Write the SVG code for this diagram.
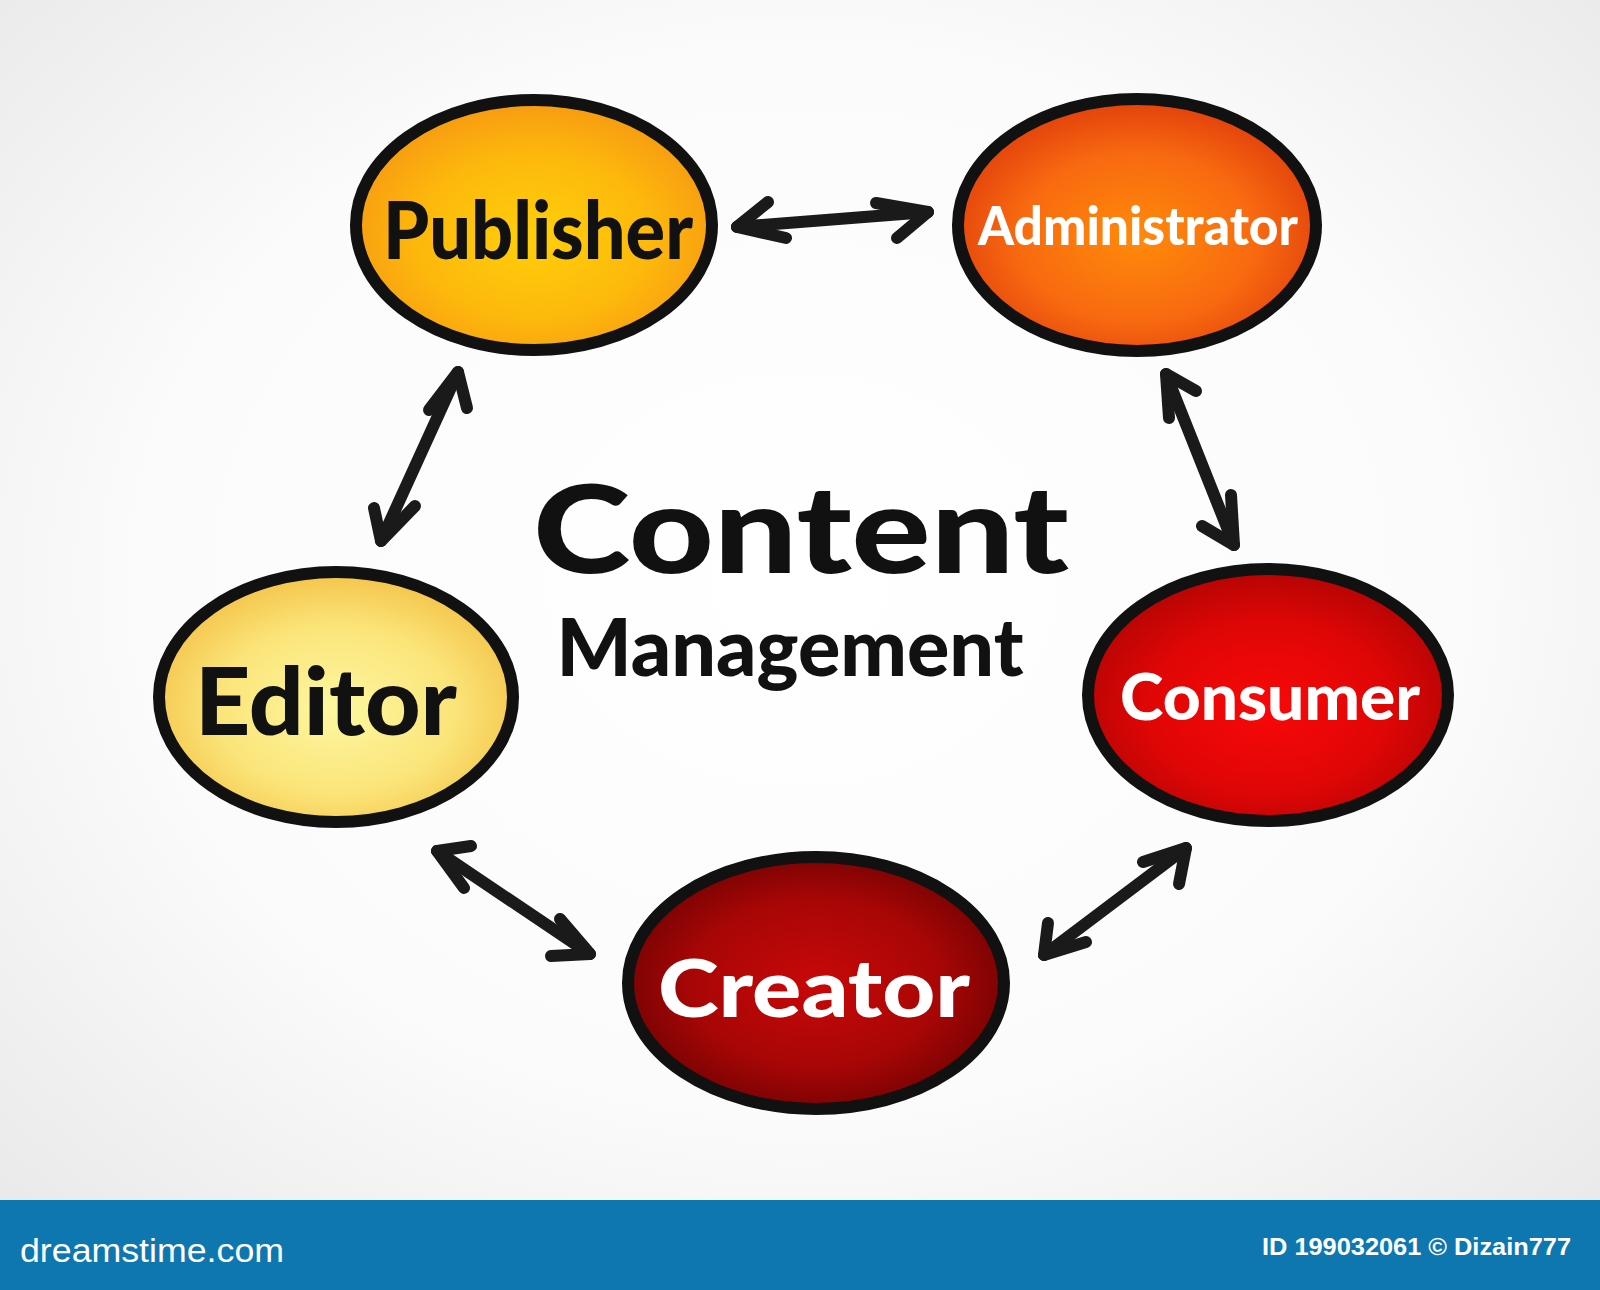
<svg xmlns="http://www.w3.org/2000/svg" width="1600" height="1290" viewBox="0 0 1600 1290">
  <defs>
    <radialGradient id="bg" cx="50%" cy="45%" r="75%">
      <stop offset="0" stop-color="#ffffff"/>
      <stop offset="0.55" stop-color="#fbfbfb"/>
      <stop offset="1" stop-color="#e6e6e6"/>
    </radialGradient>
    <radialGradient id="gPub" cx="50%" cy="55%" r="55%">
      <stop offset="0" stop-color="#ffcf0a"/>
      <stop offset="0.6" stop-color="#fdb80c"/>
      <stop offset="1" stop-color="#f79a12"/>
    </radialGradient>
    <radialGradient id="gAdm" cx="50%" cy="55%" r="55%">
      <stop offset="0" stop-color="#ff8a0a"/>
      <stop offset="0.6" stop-color="#f86a10"/>
      <stop offset="1" stop-color="#e2400c"/>
    </radialGradient>
    <radialGradient id="gEdi" cx="50%" cy="55%" r="55%">
      <stop offset="0" stop-color="#fdf7a0"/>
      <stop offset="0.6" stop-color="#fbe57a"/>
      <stop offset="1" stop-color="#f4c44a"/>
    </radialGradient>
    <radialGradient id="gCon" cx="50%" cy="55%" r="55%">
      <stop offset="0" stop-color="#f80808"/>
      <stop offset="0.6" stop-color="#e00606"/>
      <stop offset="1" stop-color="#b40404"/>
    </radialGradient>
    <radialGradient id="gCre" cx="50%" cy="50%" r="55%">
      <stop offset="0" stop-color="#c80808"/>
      <stop offset="0.6" stop-color="#a80606"/>
      <stop offset="1" stop-color="#700202"/>
    </radialGradient>
    <style>
      .node { stroke: #111; stroke-width: 12; }
      .lbl { font-family: Lato, "Open Sans", "DejaVu Sans", sans-serif; font-weight: 900; text-anchor: middle; }
      .dark { fill: #111; }
      .light { fill: #ffffff; }
      .arr { fill: none; stroke: #1a1a1a; stroke-width: 12; stroke-linecap: round; stroke-linejoin: round; }
      .title { font-family: Lato, "Open Sans", "DejaVu Sans", sans-serif; font-weight: 900; fill: #111; text-anchor: middle; }
      .foot { font-family: "Liberation Sans", Arial, sans-serif; fill: #ffffff; }
    </style>
  </defs>

  <rect x="0" y="0" width="1600" height="1290" fill="url(#bg)"/>

  <g id="connectors">
    <!-- Publisher <-> Administrator -->
    <path class="arr" d="M737 227 L928 212"/>
    <path class="arr" d="M768 202 L737 227 L786 238"/>
    <path class="arr" d="M876 203 L928 212 L897 238"/>
    <!-- Publisher <-> Editor -->
    <path class="arr" d="M458 372 L381 541"/>
    <path class="arr" d="M429 410 L458 372 L467 408"/>
    <path class="arr" d="M374 508 L381 541 L415 506"/>
    <!-- Administrator <-> Consumer -->
    <path class="arr" d="M1166 374 L1234 545"/>
    <path class="arr" d="M1196 391 L1166 374 L1169 418"/>
    <path class="arr" d="M1231 495 L1234 545 L1202 526"/>
    <!-- Editor <-> Creator -->
    <path class="arr" d="M437 851 L590 954"/>
    <path class="arr" d="M471 846 L437 851 L464 888"/>
    <path class="arr" d="M560 919 L590 954 L551 956"/>
    <!-- Consumer <-> Creator -->
    <path class="arr" d="M1186 848 L1044 955"/>
    <path class="arr" d="M1143 862 L1186 848 L1179 884"/>
    <path class="arr" d="M1048 923 L1044 955 L1086 942"/>
  </g>

  <g id="publisher">
    <ellipse class="node" cx="534" cy="225" rx="178" ry="125" fill="url(#gPub)"/>
    <text class="lbl dark" x="538" y="259" font-size="80" textLength="310" lengthAdjust="spacingAndGlyphs">Publisher</text>
  </g>

  <g id="administrator">
    <ellipse class="node" cx="1137" cy="225" rx="179" ry="126" fill="url(#gAdm)"/>
    <text class="lbl light" x="1138" y="245" font-size="54" textLength="320" lengthAdjust="spacingAndGlyphs">Administrator</text>
  </g>

  <g id="editor">
    <ellipse class="node" cx="336" cy="697" rx="177" ry="125" fill="url(#gEdi)"/>
    <text class="lbl dark" x="326" y="735" font-size="94" textLength="262" lengthAdjust="spacingAndGlyphs">Editor</text>
  </g>

  <g id="consumer">
    <ellipse class="node" cx="1268" cy="695" rx="180" ry="126" fill="url(#gCon)"/>
    <text class="lbl light" x="1270" y="720" font-size="64" textLength="300" lengthAdjust="spacingAndGlyphs">Consumer</text>
  </g>

  <g id="creator">
    <ellipse class="node" cx="816" cy="983" rx="188" ry="126" fill="url(#gCre)"/>
    <text class="lbl light" x="814" y="1017" font-size="80" textLength="312" lengthAdjust="spacingAndGlyphs">Creator</text>
  </g>

  <g id="title">
    <text class="title" x="801" y="573" font-size="122" textLength="536" lengthAdjust="spacingAndGlyphs">Content</text>
    <text class="title" x="790" y="676" font-size="80" textLength="467" lengthAdjust="spacingAndGlyphs">Management</text>
  </g>

  <g id="footer">
    <rect x="0" y="1200" width="1600" height="90" fill="#0f77b0"/>
    <text class="foot" x="20" y="1262" font-size="34" textLength="264" lengthAdjust="spacingAndGlyphs">dreamstime.com</text>
    <text class="foot" x="1571" y="1255" font-size="24" font-weight="bold" text-anchor="end" textLength="309" lengthAdjust="spacingAndGlyphs">ID 199032061 © Dizain777</text>
  </g>
</svg>
